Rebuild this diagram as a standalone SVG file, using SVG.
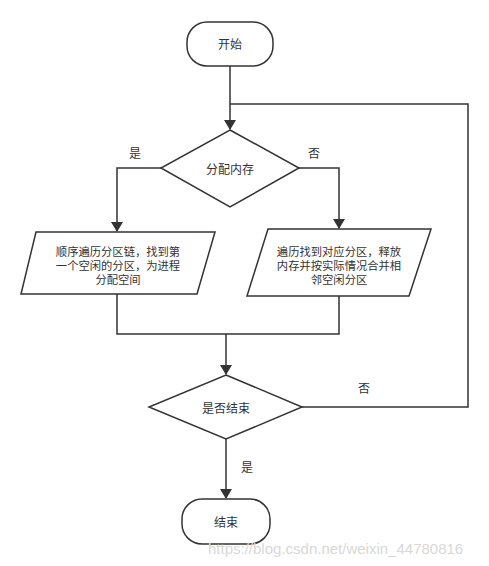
<svg xmlns="http://www.w3.org/2000/svg" width="489" height="566" viewBox="0 0 489 566">
<style>
.s{fill:#fff;stroke:#333;stroke-width:1.5}
.c{fill:none;stroke:#333;stroke-width:1.5}
text{font-family:"Liberation Sans","Noto Sans CJK SC",sans-serif;font-size:12px;fill:#333;text-anchor:middle;dominant-baseline:central}
.m{font-size:11.3px}
.wm{font-family:"Liberation Sans",sans-serif;font-size:15px;fill:#d8d8d8;text-anchor:start;dominant-baseline:alphabetic}
</style>
<defs>
<marker id="a" markerWidth="10" markerHeight="14" refX="9" refY="7" orient="auto" markerUnits="userSpaceOnUse">
<path d="M0,1 L10,7 L0,13 Z" fill="#333"/>
</marker>
</defs>
<rect width="489" height="566" fill="#fff"/>
<g id="connectors">
<path class="c" d="M230,66 V129" marker-end="url(#a)"/>
<path class="c" d="M161,168 H117 V231" marker-end="url(#a)"/>
<path class="c" d="M299,168 H339 V228" marker-end="url(#a)"/>
<path class="c" d="M117,294 V334 H339 V296"/>
<path class="c" d="M226,334 V374" marker-end="url(#a)"/>
<path class="c" d="M302,407 H468 V104 H230"/>
<path class="c" d="M226,439 V498" marker-end="url(#a)"/>
<text x="135" y="154">是</text>
<text x="314" y="154">否</text>
<text x="364" y="389">否</text>
<text x="247" y="468">是</text>
</g>
<g id="start">
<rect class="s" x="187" y="22" width="86" height="44" rx="20" ry="20"/>
<text x="230" y="45">开始</text>
</g>
<g id="alloc">
<path class="s" d="M230,130 L299,168 L230,207 L161,168 Z"/>
<text x="230" y="170">分配内存</text>
</g>
<g id="firstfit">
<path class="s" d="M36,232 L215,232 L197,294 L21,294 Z"/>
<text class="m" x="118" y="252">顺序遍历分区链，找到第</text>
<text class="m" x="118" y="266">一个空闲的分区，为进程</text>
<text class="m" x="118" y="280">分配空间</text>
</g>
<g id="release">
<path class="s" d="M268,229 L431,229 L409,296 L247,296 Z"/>
<text class="m" x="339" y="252">遍历找到对应分区，释放</text>
<text class="m" x="339" y="266">内存并按实际情况合并相</text>
<text class="m" x="339" y="280">邻空闲分区</text>
</g>
<g id="isend">
<path class="s" d="M226,375 L302,407 L226,439 L149,407 Z"/>
<text x="226" y="409">是否结束</text>
</g>
<g id="end">
<rect class="s" x="182" y="499" width="88" height="45" rx="20" ry="20"/>
<text x="226" y="523">结束</text>
</g>
<text class="wm" x="208" y="554">https://blog.csdn.net/weixin_44780816</text>
</svg>
